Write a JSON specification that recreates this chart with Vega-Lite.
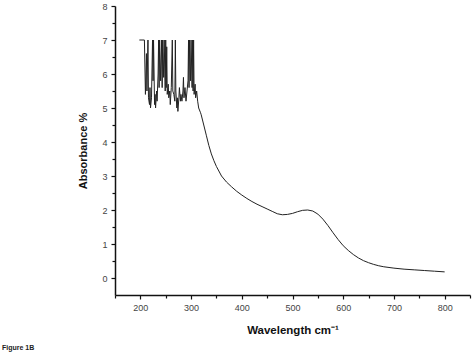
{
  "$schema": "https://vega.github.io/schema/vega-lite/v6.json",
  "width": 355,
  "height": 289,
  "autosize": {"type": "none"},
  "padding": {"left": 115, "top": 6, "right": 4, "bottom": 65},
  "background": "white",
  "config": {"view": {"stroke": null}, "font": "Liberation Sans"},
  "title": {"text": "Figure 1B", "orient": "bottom", "anchor": "start", "frame": "group", "fontSize": 7, "fontWeight": "bold", "font": "Liberation Sans", "color": "#222", "dx": -113, "offset": 8},
  "data": {"values": [
    {"wavelength": 198, "absorbance": 7.0},
    {"wavelength": 208, "absorbance": 7.0},
    {"wavelength": 210, "absorbance": 5.4},
    {"wavelength": 212, "absorbance": 6.6},
    {"wavelength": 213, "absorbance": 5.5},
    {"wavelength": 215, "absorbance": 7.0},
    {"wavelength": 216, "absorbance": 5.3},
    {"wavelength": 218, "absorbance": 5.1},
    {"wavelength": 219, "absorbance": 5.6},
    {"wavelength": 220, "absorbance": 5.0},
    {"wavelength": 222, "absorbance": 5.3},
    {"wavelength": 224, "absorbance": 7.0},
    {"wavelength": 225, "absorbance": 5.8},
    {"wavelength": 226, "absorbance": 7.0},
    {"wavelength": 228, "absorbance": 5.1},
    {"wavelength": 229, "absorbance": 5.4},
    {"wavelength": 230, "absorbance": 5.0},
    {"wavelength": 232, "absorbance": 5.5},
    {"wavelength": 233, "absorbance": 5.2},
    {"wavelength": 235, "absorbance": 6.0},
    {"wavelength": 236, "absorbance": 7.0},
    {"wavelength": 237, "absorbance": 5.6},
    {"wavelength": 238, "absorbance": 7.0},
    {"wavelength": 240, "absorbance": 5.8},
    {"wavelength": 242, "absorbance": 7.0},
    {"wavelength": 243, "absorbance": 5.6},
    {"wavelength": 244, "absorbance": 7.0},
    {"wavelength": 246, "absorbance": 5.9},
    {"wavelength": 247, "absorbance": 7.0},
    {"wavelength": 249, "absorbance": 5.5},
    {"wavelength": 250, "absorbance": 7.0},
    {"wavelength": 251, "absorbance": 5.6},
    {"wavelength": 252, "absorbance": 6.8},
    {"wavelength": 253, "absorbance": 5.4},
    {"wavelength": 255, "absorbance": 5.7},
    {"wavelength": 256, "absorbance": 5.3},
    {"wavelength": 258, "absorbance": 5.5},
    {"wavelength": 259, "absorbance": 5.1},
    {"wavelength": 261, "absorbance": 5.6},
    {"wavelength": 263, "absorbance": 7.0},
    {"wavelength": 264, "absorbance": 5.5},
    {"wavelength": 266, "absorbance": 5.4},
    {"wavelength": 268, "absorbance": 5.2},
    {"wavelength": 269, "absorbance": 7.0},
    {"wavelength": 270, "absorbance": 5.5},
    {"wavelength": 272, "absorbance": 5.0},
    {"wavelength": 273, "absorbance": 5.3},
    {"wavelength": 274, "absorbance": 4.9},
    {"wavelength": 276, "absorbance": 5.3},
    {"wavelength": 277, "absorbance": 5.6},
    {"wavelength": 279, "absorbance": 5.2},
    {"wavelength": 280, "absorbance": 5.4},
    {"wavelength": 282, "absorbance": 5.2},
    {"wavelength": 284, "absorbance": 5.5},
    {"wavelength": 285, "absorbance": 5.9},
    {"wavelength": 286, "absorbance": 5.3},
    {"wavelength": 288, "absorbance": 5.6},
    {"wavelength": 290, "absorbance": 5.2},
    {"wavelength": 292, "absorbance": 5.5},
    {"wavelength": 294, "absorbance": 5.8},
    {"wavelength": 295, "absorbance": 7.0},
    {"wavelength": 296, "absorbance": 5.6},
    {"wavelength": 297, "absorbance": 7.0},
    {"wavelength": 299, "absorbance": 5.8},
    {"wavelength": 300, "absorbance": 7.0},
    {"wavelength": 302, "absorbance": 5.6},
    {"wavelength": 303, "absorbance": 7.0},
    {"wavelength": 304, "absorbance": 5.5},
    {"wavelength": 305, "absorbance": 7.0},
    {"wavelength": 306, "absorbance": 5.4},
    {"wavelength": 308, "absorbance": 5.7},
    {"wavelength": 309, "absorbance": 5.3},
    {"wavelength": 311, "absorbance": 5.5},
    {"wavelength": 313, "absorbance": 5.2},
    {"wavelength": 315, "absorbance": 5.0},
    {"wavelength": 318.7, "absorbance": 4.86},
    {"wavelength": 320, "absorbance": 4.8},
    {"wavelength": 325, "absorbance": 4.5},
    {"wavelength": 330, "absorbance": 4.2},
    {"wavelength": 335, "absorbance": 3.9},
    {"wavelength": 340, "absorbance": 3.65},
    {"wavelength": 345, "absorbance": 3.45},
    {"wavelength": 350, "absorbance": 3.28},
    {"wavelength": 360, "absorbance": 3.0},
    {"wavelength": 370, "absorbance": 2.82},
    {"wavelength": 380, "absorbance": 2.68},
    {"wavelength": 390, "absorbance": 2.55},
    {"wavelength": 400, "absorbance": 2.44},
    {"wavelength": 410, "absorbance": 2.34},
    {"wavelength": 420, "absorbance": 2.25},
    {"wavelength": 430, "absorbance": 2.17},
    {"wavelength": 440, "absorbance": 2.1},
    {"wavelength": 450, "absorbance": 2.03},
    {"wavelength": 460, "absorbance": 1.96},
    {"wavelength": 470, "absorbance": 1.89},
    {"wavelength": 480, "absorbance": 1.86},
    {"wavelength": 490, "absorbance": 1.87},
    {"wavelength": 500, "absorbance": 1.9},
    {"wavelength": 510, "absorbance": 1.95},
    {"wavelength": 520, "absorbance": 1.99},
    {"wavelength": 530, "absorbance": 2.0},
    {"wavelength": 540, "absorbance": 1.97},
    {"wavelength": 550, "absorbance": 1.88},
    {"wavelength": 560, "absorbance": 1.73},
    {"wavelength": 570, "absorbance": 1.54},
    {"wavelength": 580, "absorbance": 1.33},
    {"wavelength": 590, "absorbance": 1.13},
    {"wavelength": 600, "absorbance": 0.95},
    {"wavelength": 610, "absorbance": 0.81},
    {"wavelength": 620, "absorbance": 0.69},
    {"wavelength": 630, "absorbance": 0.59},
    {"wavelength": 640, "absorbance": 0.51},
    {"wavelength": 650, "absorbance": 0.45},
    {"wavelength": 660, "absorbance": 0.4},
    {"wavelength": 670, "absorbance": 0.36},
    {"wavelength": 680, "absorbance": 0.33},
    {"wavelength": 700, "absorbance": 0.29},
    {"wavelength": 720, "absorbance": 0.26},
    {"wavelength": 740, "absorbance": 0.24},
    {"wavelength": 760, "absorbance": 0.22},
    {"wavelength": 780, "absorbance": 0.2},
    {"wavelength": 800, "absorbance": 0.18}
  ]},
  "mark": {"type": "line", "color": "#222", "strokeWidth": 1},
  "encoding": {
    "x": {
      "field": "wavelength", "type": "quantitative",
      "scale": {"domain": [150, 850], "nice": false, "zero": false},
      "axis": {
        "title": "Wavelength cm⁻¹",
        "values": [150, 200, 250, 300, 350, 400, 450, 500, 550, 600, 650, 700, 750, 800, 850],
        "labelExpr": "datum.value % 100 === 0 && datum.value >= 200 && datum.value <= 800 ? format(datum.value, 'd') : ''",
        "grid": false,
        "domainColor": "#111", "domainWidth": 1.5,
        "tickColor": "#111", "tickWidth": 1.2,
        "tickSize": {"condition": {"test": "datum.value % 100 !== 0", "value": 3}, "value": 4},
        "labelFont": "Liberation Sans", "labelFontSize": 9, "labelColor": "#444", "labelPadding": 4,
        "labelFlush": false, "labelOverlap": false,
        "titleFont": "Liberation Sans", "titleFontSize": 11.5, "titleFontWeight": "bold", "titleColor": "#111", "titlePadding": 12
      }
    },
    "y": {
      "field": "absorbance", "type": "quantitative",
      "scale": {"domain": [-0.5, 8], "nice": false, "zero": false},
      "axis": {
        "title": "Absorbance %",
        "values": [0, 0.5, 1, 1.5, 2, 2.5, 3, 3.5, 4, 4.5, 5, 5.5, 6, 6.5, 7, 7.5, 8],
        "labelExpr": "datum.value % 1 === 0 ? format(datum.value, 'd') : ''",
        "grid": false,
        "domainColor": "#111", "domainWidth": 1.5,
        "tickColor": "#111", "tickWidth": 1.2,
        "tickSize": {"condition": {"test": "datum.value % 1 !== 0", "value": 3}, "value": 4},
        "labelFont": "Liberation Sans", "labelFontSize": 9, "labelColor": "#444", "labelPadding": 4,
        "labelFlush": false, "labelOverlap": false,
        "titleFont": "Liberation Sans", "titleFontSize": 11, "titleFontWeight": "bold", "titleColor": "#111", "titlePadding": 13
      }
    }
  }
}
